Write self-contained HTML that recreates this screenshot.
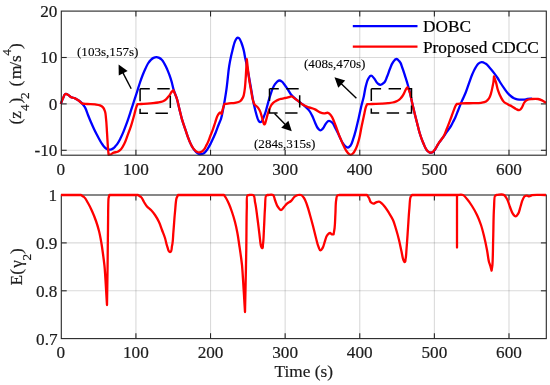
<!DOCTYPE html>
<html><head><meta charset="utf-8"><title>Figure</title>
<style>
html,body{margin:0;padding:0;background:#fff;}
svg{display:block;}
text{font-family:"Liberation Serif",serif;fill:#1c1c1c;stroke:#1c1c1c;stroke-width:0.2px;}
.tick{font-size:17.2px;}
.lab{font-size:17.3px;}
.sub{font-size:13.3px;}
.ann{font-size:13.1px;fill:#000;stroke:#000;stroke-width:0.1px;}
.leg{fill:#000;stroke:#000;}
.grid line{stroke:#262626;stroke-opacity:0.17;stroke-width:1.1;}
.ax{stroke:#262626;stroke-width:1.1;fill:none;}
.tk line{stroke:#262626;stroke-width:1.1;}
.cv{fill:none;stroke-width:2.3;stroke-linejoin:round;stroke-linecap:butt;}
.box{fill:none;stroke:#000;stroke-width:1.5;stroke-dasharray:12.4 7.5;}
.arr{stroke:#000;stroke-width:1.4;}
</style></head>
<body>
<svg width="550" height="385" viewBox="0 0 550 385">
<rect x="0" y="0" width="550" height="385" fill="#fff"/>
<!-- top axes -->
<g class="grid"><line x1="135.92" y1="11.10" x2="135.92" y2="155.20"/><line x1="210.53" y1="11.10" x2="210.53" y2="155.20"/><line x1="285.15" y1="11.10" x2="285.15" y2="155.20"/><line x1="359.76" y1="11.10" x2="359.76" y2="155.20"/><line x1="434.38" y1="11.10" x2="434.38" y2="155.20"/><line x1="508.99" y1="11.10" x2="508.99" y2="155.20"/><line x1="61.30" y1="57.50" x2="546.30" y2="57.50"/><line x1="61.30" y1="103.90" x2="546.30" y2="103.90"/><line x1="61.30" y1="150.30" x2="546.30" y2="150.30"/></g>
<g class="tk"><line x1="135.92" y1="155.20" x2="135.92" y2="149.80"/><line x1="135.92" y1="11.10" x2="135.92" y2="16.50"/><line x1="210.53" y1="155.20" x2="210.53" y2="149.80"/><line x1="210.53" y1="11.10" x2="210.53" y2="16.50"/><line x1="285.15" y1="155.20" x2="285.15" y2="149.80"/><line x1="285.15" y1="11.10" x2="285.15" y2="16.50"/><line x1="359.76" y1="155.20" x2="359.76" y2="149.80"/><line x1="359.76" y1="11.10" x2="359.76" y2="16.50"/><line x1="434.38" y1="155.20" x2="434.38" y2="149.80"/><line x1="434.38" y1="11.10" x2="434.38" y2="16.50"/><line x1="508.99" y1="155.20" x2="508.99" y2="149.80"/><line x1="508.99" y1="11.10" x2="508.99" y2="16.50"/><line x1="61.30" y1="57.50" x2="66.70" y2="57.50"/><line x1="546.30" y1="57.50" x2="540.90" y2="57.50"/><line x1="61.30" y1="103.90" x2="66.70" y2="103.90"/><line x1="546.30" y1="103.90" x2="540.90" y2="103.90"/><line x1="61.30" y1="150.30" x2="66.70" y2="150.30"/><line x1="546.30" y1="150.30" x2="540.90" y2="150.30"/></g>
<path class="cv" stroke="#0000ff" d="M60.80 104.00 C61.53 102.10 62.05 100.10 63.00 98.30 C63.82 96.74 64.14 93.90 65.90 93.90 C66.78 93.90 67.55 94.55 68.30 95.00 C69.17 95.53 69.82 96.38 70.70 96.90 C72.01 97.67 73.62 97.76 75.00 98.40 C76.41 99.06 77.75 99.88 79.00 100.80 C80.07 101.58 81.09 102.44 82.00 103.40 C83.15 104.61 84.14 105.97 85.00 107.40 C86.41 109.73 86.98 112.47 88.00 115.00 C88.98 117.44 89.96 119.88 91.00 122.30 C91.97 124.55 92.95 126.79 94.00 129.00 C94.80 130.68 95.65 132.34 96.50 134.00 C97.32 135.61 98.13 137.22 99.00 138.80 C99.77 140.21 100.53 141.64 101.40 143.00 C102.06 144.03 102.71 145.07 103.50 146.00 C104.17 146.79 104.86 147.59 105.70 148.20 C106.29 148.63 106.91 149.04 107.60 149.30 C108.21 149.53 108.85 149.70 109.50 149.70 C110.15 149.70 110.79 149.52 111.40 149.30 C112.12 149.04 112.78 148.65 113.40 148.20 C114.20 147.62 114.84 146.84 115.50 146.10 C116.29 145.22 117.02 144.28 117.70 143.30 C118.79 141.73 119.63 140.00 120.50 138.30 C121.48 136.37 122.35 134.39 123.20 132.40 C124.21 130.03 125.11 127.61 126.00 125.20 C126.91 122.75 127.76 120.28 128.60 117.80 C129.43 115.34 130.20 112.87 131.00 110.40 C132.00 107.33 133.00 104.27 134.00 101.20 C135.00 98.13 136.01 95.07 137.00 92.00 C138.01 88.84 138.93 85.64 140.00 82.50 C140.86 79.98 141.72 77.47 142.70 75.00 C143.57 72.81 144.50 70.64 145.50 68.50 C146.29 66.81 146.99 65.07 148.00 63.50 C148.85 62.18 149.75 60.86 150.90 59.80 C151.69 59.07 152.53 58.36 153.50 57.90 C154.41 57.47 155.40 57.09 156.40 57.10 C157.37 57.11 158.32 57.48 159.20 57.90 C160.17 58.36 161.03 59.05 161.80 59.80 C162.96 60.92 163.68 62.41 164.50 63.80 C165.59 65.65 166.44 67.63 167.30 69.60 C168.10 71.44 168.82 73.31 169.50 75.20 C170.26 77.31 170.97 79.45 171.60 81.60 C172.37 84.24 172.81 86.97 173.60 89.60 C174.48 92.52 175.80 95.29 176.70 98.20 C177.81 101.78 178.49 105.47 179.40 109.10 C180.26 112.54 181.02 116.00 182.00 119.40 C183.17 123.45 184.67 127.46 186.00 131.40 C186.66 133.37 187.28 135.35 188.00 137.30 C188.63 139.01 189.26 140.73 190.00 142.40 C190.62 143.79 191.24 145.18 192.00 146.50 C192.61 147.57 193.25 148.62 194.00 149.60 C194.67 150.48 195.37 151.37 196.20 152.10 C196.85 152.67 197.52 153.24 198.30 153.60 C199.02 153.93 199.81 154.16 200.60 154.20 C201.41 154.24 202.25 154.11 203.00 153.80 C203.90 153.43 204.61 152.68 205.30 152.00 C206.16 151.15 206.81 150.10 207.50 149.10 C208.76 147.27 209.78 145.28 210.80 143.30 C211.78 141.40 212.62 139.44 213.50 137.50 C214.32 135.68 215.15 133.85 215.90 132.00 C216.84 129.69 217.59 127.32 218.50 125.00 C219.30 122.95 220.31 120.99 221.00 118.90 C222.10 115.60 222.52 112.11 223.20 108.70 C223.77 105.81 224.30 102.91 224.80 100.00 C225.34 96.81 225.85 93.61 226.30 90.40 C226.67 87.74 226.97 85.07 227.30 82.40 C227.95 77.06 228.32 71.43 229.20 66.00 C229.69 62.99 230.25 59.98 230.90 57.00 C231.30 55.16 231.76 53.33 232.20 51.50 C232.56 49.97 232.90 48.43 233.30 46.90 C233.64 45.59 233.96 44.28 234.40 43.00 C234.75 41.98 235.08 40.95 235.60 40.00 C235.92 39.41 236.20 38.75 236.70 38.30 C237.02 38.01 237.37 37.63 237.80 37.60 C238.25 37.57 238.65 37.93 239.00 38.20 C239.57 38.64 239.84 39.37 240.20 40.00 C240.74 40.95 241.11 41.98 241.50 43.00 C242.00 44.28 242.41 45.59 242.80 46.90 C243.25 48.42 243.65 49.95 244.00 51.50 C244.41 53.32 244.64 55.17 245.00 57.00 C245.40 59.01 245.88 61.00 246.30 63.00 C246.75 65.16 247.18 67.33 247.60 69.50 C248.12 72.16 248.61 74.83 249.10 77.50 C249.62 80.33 250.11 83.17 250.60 86.00 C251.01 88.33 251.41 90.67 251.80 93.00 C252.14 95.00 252.43 97.01 252.80 99.00 C253.22 101.28 253.69 103.54 254.20 105.80 C254.86 108.72 255.52 111.64 256.40 114.50 C257.03 116.52 257.51 119.24 258.50 120.50 C258.99 121.13 259.40 122.16 260.20 122.20 C260.92 122.24 261.50 121.51 262.00 121.00 C262.89 120.09 263.02 118.67 263.50 117.50 C264.06 116.14 264.61 114.78 265.10 113.40 C265.95 110.98 266.50 108.47 267.20 106.00 C267.94 103.40 268.61 100.78 269.40 98.20 C269.91 96.53 270.44 94.86 271.00 93.20 C271.54 91.59 272.00 89.95 272.70 88.40 C273.36 86.94 274.07 85.50 275.00 84.20 C275.60 83.35 276.18 82.44 277.00 81.80 C277.74 81.22 278.56 80.51 279.50 80.50 C280.42 80.49 281.26 81.15 282.00 81.70 C282.81 82.31 283.36 83.21 284.00 84.00 C285.08 85.34 286.03 86.78 287.00 88.20 C288.39 90.23 289.43 92.51 291.00 94.40 C292.21 95.85 293.60 97.14 295.00 98.40 C296.59 99.83 298.33 101.07 300.00 102.40 C301.67 103.73 303.41 104.97 305.00 106.40 C306.40 107.66 307.84 108.92 309.00 110.40 C310.20 111.93 311.10 113.68 312.00 115.40 C313.18 117.65 313.93 120.10 315.00 122.40 C315.94 124.43 316.59 126.87 318.00 128.40 C318.71 129.16 319.36 130.36 320.40 130.40 C321.49 130.44 322.23 129.18 323.00 128.40 C324.37 127.02 324.71 124.85 326.00 123.40 C326.88 122.41 327.68 120.88 329.00 120.80 C330.13 120.73 331.12 121.68 332.00 122.40 C333.50 123.63 334.05 125.70 335.00 127.40 C336.46 130.00 337.67 132.73 339.00 135.40 C340.33 138.07 341.23 141.00 343.00 143.40 C343.90 144.62 344.76 146.07 346.00 146.80 C346.62 147.16 347.28 147.62 348.00 147.60 C349.13 147.57 349.85 146.25 350.60 145.40 C352.09 143.69 352.57 140.77 353.40 138.40 C354.43 135.45 355.20 132.42 356.00 129.40 C356.96 125.76 357.77 122.07 358.60 118.40 C359.43 114.74 360.14 111.05 361.00 107.40 C361.87 103.72 362.96 100.09 363.80 96.40 C364.63 92.75 364.98 89.00 366.00 85.40 C366.63 83.20 366.97 80.83 368.20 78.90 C368.96 77.71 369.58 75.75 371.00 75.70 C372.30 75.65 373.09 77.27 374.00 78.20 C375.47 79.71 375.89 82.17 377.60 83.40 C378.47 84.03 379.43 84.76 380.50 84.80 C381.93 84.85 383.17 83.60 384.20 82.60 C385.74 81.11 386.14 78.77 387.00 76.80 C388.14 74.19 388.90 71.43 390.00 68.80 C390.93 66.57 391.53 64.11 393.00 62.20 C393.93 60.99 394.77 59.01 396.30 59.00 C397.63 58.99 398.60 60.42 399.50 61.40 C401.13 63.17 401.53 65.76 402.40 68.00 C403.52 70.88 404.36 73.86 405.30 76.80 C406.30 79.92 407.31 83.04 408.20 86.20 C408.91 88.72 409.58 91.25 410.20 93.80 C410.98 97.05 411.56 100.34 412.30 103.60 C413.00 106.67 413.75 109.74 414.50 112.80 C415.38 116.37 416.29 119.93 417.20 123.50 C417.96 126.50 418.61 129.54 419.50 132.50 C420.19 134.79 420.96 137.06 421.80 139.30 C422.40 140.88 423.03 142.45 423.70 144.00 C424.28 145.34 424.78 146.73 425.50 148.00 C426.09 149.05 426.64 150.16 427.50 151.00 C428.17 151.65 428.90 152.36 429.80 152.60 C430.57 152.80 431.44 152.76 432.20 152.50 C433.43 152.08 434.11 150.73 434.90 149.70 C435.73 148.62 436.30 147.37 437.00 146.20 C437.76 144.93 438.49 143.64 439.30 142.40 C440.62 140.39 442.21 138.56 443.60 136.60 C444.76 134.95 445.84 133.25 447.00 131.60 C448.27 129.78 449.78 128.12 450.90 126.20 C451.69 124.85 452.29 123.40 453.00 122.00 C453.76 120.50 454.59 119.03 455.30 117.50 C456.40 115.13 457.23 112.63 458.20 110.20 C459.17 107.77 460.07 105.31 461.10 102.90 C461.80 101.25 462.58 99.64 463.30 98.00 C464.18 96.01 465.09 94.02 465.90 92.00 C467.13 88.95 468.08 85.79 469.20 82.70 C470.25 79.79 471.16 76.83 472.40 74.00 C473.39 71.75 474.38 69.48 475.70 67.40 C476.52 66.11 477.20 64.65 478.40 63.70 C479.36 62.94 480.48 62.18 481.70 62.10 C483.06 62.02 484.33 62.90 485.50 63.60 C487.28 64.66 488.51 66.46 489.90 68.00 C491.46 69.72 492.90 71.55 494.30 73.40 C495.44 74.90 496.56 76.43 497.60 78.00 C498.78 79.78 499.75 81.70 500.90 83.50 C501.96 85.16 503.06 86.79 504.20 88.40 C505.23 89.86 506.23 91.35 507.40 92.70 C508.42 93.87 509.49 95.02 510.70 96.00 C511.73 96.83 512.81 97.63 514.00 98.20 C515.05 98.70 516.17 99.05 517.30 99.30 C518.70 99.61 520.16 99.68 521.60 99.70 C523.07 99.72 524.91 99.66 526.00 99.40 C526.54 99.27 527.06 99.03 527.60 98.90 C528.69 98.64 530.53 98.70 532.00 98.60"/>
<path class="cv" stroke="#ff0000" d="M60.80 104.00 C61.53 102.10 62.05 100.10 63.00 98.30 C63.82 96.74 64.14 93.90 65.90 93.90 C66.78 93.90 67.55 94.55 68.30 95.00 C69.17 95.53 69.82 96.38 70.70 96.90 C72.01 97.67 73.62 97.76 75.00 98.40 C76.41 99.06 77.75 99.88 79.00 100.80 C80.07 101.58 80.81 102.82 82.00 103.40 C83.51 104.13 85.33 103.84 87.00 104.00 C89.66 104.25 92.36 104.03 95.00 104.40 C96.68 104.64 98.45 104.70 100.00 105.40 C101.09 105.90 102.18 106.52 103.00 107.40 C104.02 108.49 104.50 109.99 105.00 111.40 C105.78 113.62 105.72 116.06 106.00 118.40 C106.55 123.05 106.69 127.73 107.00 132.40 C107.36 137.73 107.64 144.13 108.00 148.40 C108.18 150.54 108.40 152.67 108.60 154.80  C109.47 154.60 110.39 154.56 111.20 154.20 C112.01 153.84 112.60 153.09 113.40 152.70 C114.72 152.06 116.37 152.42 117.70 151.80 C118.95 151.22 120.04 150.29 121.00 149.30 C122.49 147.77 123.33 145.71 124.30 143.80 C125.63 141.18 126.46 138.34 127.50 135.60 C128.67 132.51 129.86 129.43 130.90 126.30 C132.14 122.58 133.15 118.78 134.20 115.00 C134.96 112.27 135.73 108.56 136.40 106.80 C136.74 105.92 137.13 105.07 137.50 104.20  C138.67 104.13 139.83 104.06 141.00 104.00 C143.10 103.89 145.20 103.84 147.30 103.70 C149.20 103.57 151.10 103.41 153.00 103.20 C154.74 103.01 156.48 102.82 158.20 102.50 C159.14 102.33 160.09 102.17 161.00 101.90 C161.89 101.63 162.77 101.33 163.60 100.90 C164.45 100.46 165.27 99.93 166.00 99.30 C166.75 98.66 167.36 97.86 168.00 97.10 C168.63 96.36 169.25 95.60 169.80 94.80 C170.35 94.00 170.70 93.07 171.30 92.30 C171.91 91.52 172.70 90.90 173.40 90.20  C174.50 92.87 175.77 95.47 176.70 98.20 C177.90 101.75 178.49 105.47 179.40 109.10 C180.26 112.54 181.02 116.00 182.00 119.40 C183.17 123.45 184.67 127.46 186.00 131.40 C186.66 133.37 187.28 135.35 188.00 137.30 C188.63 139.01 189.25 140.74 190.00 142.40 C190.61 143.76 191.23 145.12 192.00 146.40 C192.61 147.41 193.22 148.42 194.00 149.30 C194.69 150.08 195.41 150.87 196.30 151.40 C197.18 151.92 198.18 152.40 199.20 152.40 C200.18 152.40 201.16 152.01 202.00 151.50 C202.95 150.93 203.64 149.99 204.30 149.10 C205.00 148.15 205.45 147.04 206.00 146.00 C206.58 144.91 207.17 143.82 207.70 142.70 C208.72 140.53 209.43 138.23 210.30 136.00 C211.20 133.70 212.16 131.42 213.00 129.10 C213.79 126.92 214.46 124.70 215.20 122.50 C215.93 120.33 216.67 117.37 217.40 116.00 C217.76 115.31 218.14 114.63 218.60 114.00 C219.02 113.43 219.53 112.93 220.00 112.40  L221.60 114.00  C222.07 112.13 222.47 110.25 223.00 108.40 C223.43 106.92 223.93 105.47 224.40 104.00  C225.93 103.80 227.46 103.58 229.00 103.40 C231.00 103.17 233.03 103.19 235.00 102.80 C236.70 102.47 238.58 102.39 240.00 101.40 C241.37 100.45 242.24 98.88 243.00 97.40 C244.09 95.27 244.21 92.76 244.60 90.40 C245.04 87.76 245.16 85.07 245.40 82.40 C245.88 77.06 246.33 66.93 246.80 59.20  C247.73 66.93 248.58 76.31 249.60 82.40 C250.11 85.44 250.73 88.47 251.30 91.50 C251.86 94.50 252.05 97.70 253.00 100.50 C253.47 101.90 253.80 103.43 254.70 104.60 C255.42 105.54 256.61 106.02 257.40 106.90 C258.29 107.88 258.98 109.03 259.60 110.20 C260.68 112.22 261.13 114.51 261.80 116.70 C262.38 118.62 262.91 121.28 263.40 122.50 C263.64 123.11 263.69 123.89 264.20 124.30 C265.22 125.13 265.51 121.81 266.00 120.50 C266.59 118.92 266.83 117.22 267.30 115.60 C267.93 113.41 268.51 111.20 269.40 109.10 C270.04 107.59 270.65 106.04 271.60 104.70 C272.22 103.83 272.88 102.97 273.70 102.30 C274.39 101.73 275.22 101.34 276.00 100.90 C276.85 100.43 277.70 99.95 278.60 99.60 C279.50 99.25 280.46 99.04 281.40 98.80 C282.59 98.49 283.80 98.25 285.00 98.00 C286.00 97.79 287.01 97.66 288.00 97.40 C288.67 97.23 289.34 97.03 290.00 96.80 C290.44 96.65 290.84 96.30 291.30 96.30 C291.85 96.30 292.32 96.72 292.80 97.00 C293.42 97.36 293.93 97.87 294.50 98.30 C295.64 99.16 297.44 100.49 298.90 101.60 C300.28 102.65 301.52 103.89 303.00 104.80 C304.86 105.94 306.96 106.62 309.00 107.40 C310.97 108.15 313.09 108.51 315.00 109.40 C316.76 110.22 318.19 111.70 320.00 112.40 C321.28 112.89 322.63 113.34 324.00 113.40 C325.35 113.46 326.71 112.42 328.00 112.80 C329.27 113.17 330.14 114.40 331.00 115.40 C332.46 117.09 333.09 119.36 334.00 121.40 C335.15 124.00 336.00 126.73 337.00 129.40 C338.00 132.07 338.94 134.76 340.00 137.40 C340.95 139.75 341.93 142.10 343.00 144.40 C343.94 146.43 344.74 148.55 346.00 150.40 C346.88 151.69 348.00 153.35 349.00 154.00 C349.50 154.33 350.01 154.75 350.60 154.80 C351.52 154.88 352.28 153.99 353.00 153.40 C354.43 152.22 355.14 150.14 356.00 148.40 C357.40 145.56 358.16 142.45 359.00 139.40 C360.17 135.17 360.70 130.79 361.60 126.50 C362.12 124.00 362.67 121.50 363.20 119.00 C363.60 117.13 363.98 115.26 364.40 113.40 C364.91 111.13 365.35 108.24 366.00 106.60 C366.32 105.78 366.73 105.00 367.10 104.20  C368.73 104.13 370.37 104.06 372.00 104.00 C375.27 103.88 378.54 103.90 381.80 103.70 C383.87 103.57 385.94 103.45 388.00 103.20 C389.57 103.01 391.16 102.87 392.70 102.50 C393.72 102.26 394.73 101.98 395.70 101.60 C396.56 101.26 397.42 100.89 398.20 100.40 C399.04 99.87 399.80 99.21 400.50 98.50 C401.25 97.74 401.90 96.88 402.50 96.00 C403.06 95.17 403.54 94.29 404.00 93.40 C404.48 92.46 404.83 91.45 405.30 90.50 C405.65 89.79 405.93 89.03 406.40 88.40 C406.70 88.00 407.07 87.67 407.40 87.30  C407.87 88.13 408.39 88.94 408.80 89.80 C409.40 91.08 409.78 92.45 410.20 93.80 C411.03 96.50 411.56 100.34 412.30 103.60 C413.00 106.67 413.75 109.74 414.50 112.80 C415.38 116.37 416.29 119.93 417.20 123.50 C417.96 126.50 418.61 129.54 419.50 132.50 C420.19 134.79 420.96 137.06 421.80 139.30 C422.40 140.88 423.03 142.45 423.70 144.00 C424.28 145.34 424.78 146.73 425.50 148.00 C426.09 149.05 426.62 150.18 427.50 151.00 C428.17 151.63 428.90 152.31 429.80 152.50 C430.52 152.65 431.30 152.54 432.00 152.30 C433.27 151.87 434.06 150.55 434.90 149.50 C435.75 148.44 436.30 147.17 437.00 146.00 C437.76 144.73 438.49 143.44 439.30 142.20 C440.62 140.19 442.40 138.49 443.60 136.40 C444.84 134.24 445.56 131.81 446.50 129.50 C447.54 126.95 448.51 124.37 449.50 121.80 C450.24 119.87 450.98 117.94 451.70 116.00 C452.41 114.07 453.06 112.12 453.80 110.20 C454.34 108.79 454.79 107.33 455.50 106.00 C455.86 105.31 456.30 104.67 456.70 104.00  C458.13 103.80 459.56 103.55 461.00 103.40 C463.88 103.09 469.00 103.35 473.00 103.20 C475.67 103.10 478.38 103.29 481.00 102.80 C482.70 102.48 484.53 102.31 486.00 101.40 C487.20 100.65 488.19 99.56 489.00 98.40 C490.02 96.93 490.45 95.11 491.00 93.40 C491.74 91.12 492.11 88.74 492.60 86.40 C492.88 85.07 493.19 83.74 493.40 82.40 C493.72 80.42 493.80 78.40 494.00 76.40  C494.67 78.40 495.40 80.38 496.00 82.40 C496.78 85.04 497.11 87.80 498.00 90.40 C498.82 92.80 499.77 95.18 501.00 97.40 C501.89 99.00 502.66 100.75 504.00 102.00 C505.14 103.06 506.64 103.65 508.00 104.40 C509.31 105.12 510.70 105.66 512.00 106.40 C513.38 107.19 514.54 108.37 516.00 109.00 C517.14 109.49 518.41 110.36 519.60 110.00 C520.73 109.66 521.31 108.35 522.00 107.40 C523.09 105.91 523.24 103.84 524.40 102.40 C525.14 101.48 525.98 100.59 527.00 100.00 C528.47 99.15 530.31 99.18 532.00 99.00 C533.99 98.79 536.04 98.61 538.00 99.00 C539.39 99.28 540.72 99.81 542.00 100.40 C543.41 101.05 544.67 102.00 546.00 102.80"/>
<rect class="ax" x="61.30" y="11.10" width="485.00" height="144.10"/>
<!-- dashed boxes -->
<path class="box" d="M140.1 88.8 V113.2 H170.3 V88.8 H140.1"/>
<path class="box" d="M269.5 88.7 V112.9 H299.7 V88.7 H269.5"/>
<path class="box" d="M371.3 88.7 V113.1 H411.5 V88.7 H371.3"/>
<!-- arrows -->
<g class="arr">
<line x1="131.20" y1="88.80" x2="122.73" y2="72.40"/><polygon points="118.60,64.40 127.63,70.99 118.75,75.58" stroke="none" fill="#000"/>
<line x1="274.50" y1="113.60" x2="285.51" y2="124.86"/><polygon points="291.80,131.30 281.23,127.64 288.39,120.65" stroke="none" fill="#000"/>
<line x1="356.40" y1="98.20" x2="341.01" y2="83.51"/><polygon points="334.50,77.30 345.19,80.59 338.28,87.82" stroke="none" fill="#000"/>
</g>
<text class="ann" x="77" y="56">(103s,157s)</text>
<text class="ann" x="254" y="148">(284s,315s)</text>
<text class="ann" x="304" y="68.4">(408s,470s)</text>
<!-- legend -->
<line x1="352.8" y1="26.2" x2="417.5" y2="26.2" stroke="#0000ff" stroke-width="2.3"/>
<line x1="352.8" y1="46.6" x2="417.5" y2="46.6" stroke="#ff0000" stroke-width="2.3"/>
<text class="lab leg" x="423" y="32">DOBC</text>
<text class="lab leg" x="423" y="52.6">Proposed CDCC</text>
<!-- top tick labels -->
<g class="tick" text-anchor="end">
<text x="57.4" y="16.8">20</text><text x="57.4" y="63.2">10</text><text x="57.4" y="109.6">0</text><text x="57.4" y="156">-10</text>
</g>
<g class="tick" text-anchor="middle">
<text x="60.80" y="174.60">0</text><text x="135.92" y="174.60">100</text><text x="210.53" y="174.60">200</text><text x="285.15" y="174.60">300</text><text x="359.76" y="174.60">400</text><text x="434.38" y="174.60">500</text><text x="508.99" y="174.60">600</text>
</g>
<!-- top ylabel -->
<g transform="translate(20.7,125) rotate(-90)">
<text class="lab" x="0.6" y="0">(z</text>
<text class="sub" x="14.1" y="8.5">4</text>
<text class="lab" x="21.5" y="0">)</text>
<text class="sub" x="26" y="8.5">2</text>
<text class="lab" x="38.5" y="0">(</text>
<text class="lab" x="46" y="0">m</text>
<text class="lab" x="58.2" y="0">/s</text>
<text class="sub" x="69.3" y="-9.6">4</text>
<text class="lab" x="76" y="0">)</text>
</g>
<!-- bottom axes -->
<g class="grid"><line x1="135.92" y1="195.00" x2="135.92" y2="338.60"/><line x1="210.53" y1="195.00" x2="210.53" y2="338.60"/><line x1="285.15" y1="195.00" x2="285.15" y2="338.60"/><line x1="359.76" y1="195.00" x2="359.76" y2="338.60"/><line x1="434.38" y1="195.00" x2="434.38" y2="338.60"/><line x1="508.99" y1="195.00" x2="508.99" y2="338.60"/><line x1="61.30" y1="242.90" x2="546.30" y2="242.90"/><line x1="61.30" y1="290.80" x2="546.30" y2="290.80"/></g>
<g class="tk"><line x1="135.92" y1="338.60" x2="135.92" y2="333.20"/><line x1="135.92" y1="195.00" x2="135.92" y2="200.40"/><line x1="210.53" y1="338.60" x2="210.53" y2="333.20"/><line x1="210.53" y1="195.00" x2="210.53" y2="200.40"/><line x1="285.15" y1="338.60" x2="285.15" y2="333.20"/><line x1="285.15" y1="195.00" x2="285.15" y2="200.40"/><line x1="359.76" y1="338.60" x2="359.76" y2="333.20"/><line x1="359.76" y1="195.00" x2="359.76" y2="200.40"/><line x1="434.38" y1="338.60" x2="434.38" y2="333.20"/><line x1="434.38" y1="195.00" x2="434.38" y2="200.40"/><line x1="508.99" y1="338.60" x2="508.99" y2="333.20"/><line x1="508.99" y1="195.00" x2="508.99" y2="200.40"/><line x1="61.30" y1="242.90" x2="66.70" y2="242.90"/><line x1="546.30" y1="242.90" x2="540.90" y2="242.90"/><line x1="61.30" y1="290.80" x2="66.70" y2="290.80"/><line x1="546.30" y1="290.80" x2="540.90" y2="290.80"/></g>
<rect class="ax" x="61.30" y="195.00" width="485.00" height="143.60"/>
<path class="cv" stroke="#ff0000" d="M61.00 195.00 L81.00 195.00  C82.00 195.67 83.10 196.21 84.00 197.00 C85.81 198.58 86.78 200.93 88.00 203.00 C89.51 205.57 90.77 208.28 92.00 211.00 C93.48 214.27 94.82 217.61 96.00 221.00 C97.15 224.29 98.15 227.63 99.00 231.00 C100.00 234.95 100.71 238.98 101.40 243.00 C102.03 246.65 102.50 250.33 103.00 254.00 C103.50 257.66 103.98 261.33 104.40 265.00 C105.24 272.35 106.13 291.67 107.00 305.00  C107.20 291.67 107.43 278.33 107.60 265.00 C107.76 252.67 107.80 240.33 108.00 228.00 C108.16 218.00 108.11 200.01 108.60 198.00 C108.84 196.99 109.13 196.00 109.40 195.00  L138.00 195.00  C139.00 195.67 140.13 196.18 141.00 197.00 C142.41 198.33 142.95 200.36 144.00 202.00 C144.96 203.49 145.83 205.06 147.00 206.40 C148.18 207.75 149.76 208.70 151.00 210.00 C152.48 211.54 153.78 213.25 155.00 215.00 C156.53 217.21 157.85 219.57 159.00 222.00 C160.22 224.58 161.00 227.33 162.00 230.00 C163.00 232.67 164.13 235.29 165.00 238.00 C165.95 240.96 166.20 244.14 167.40 247.00 C168.13 248.73 168.12 251.89 170.00 252.00 C172.10 252.12 171.47 248.04 172.00 246.00 C173.06 241.92 172.97 236.67 173.40 232.00 C174.01 225.34 174.33 218.65 175.00 212.00 C175.47 207.33 175.79 200.05 176.60 198.00 C177.00 196.97 177.53 196.00 178.00 195.00  L224.00 195.00  C224.67 196.00 225.38 196.97 226.00 198.00 C227.16 199.91 228.09 201.96 229.00 204.00 C230.15 206.60 231.08 209.30 232.00 212.00 C233.12 215.29 234.12 218.63 235.00 222.00 C235.95 225.63 236.71 229.31 237.40 233.00 C238.21 237.31 238.75 241.66 239.40 246.00 C239.95 249.66 240.51 253.33 241.00 257.00 C241.36 259.66 241.69 262.33 242.00 265.00 C242.62 270.34 244.00 296.33 245.00 312.00  C245.33 296.33 245.79 276.33 246.00 265.00 C246.11 259.33 246.21 253.67 246.30 248.00 C246.48 236.67 246.47 216.27 246.80 208.00 C246.96 203.87 246.39 196.12 247.40 195.60 C247.91 195.34 248.47 195.20 249.00 195.00  C250.33 195.00 251.79 194.44 253.00 195.00 C255.21 196.01 254.43 199.64 255.00 202.00 C256.15 206.72 256.67 212.66 257.40 218.00 C258.13 223.32 258.71 228.67 259.40 234.00 C259.92 238.00 260.40 244.63 261.00 246.00 C261.30 246.68 261.37 247.60 262.00 248.00 C263.16 248.74 262.72 245.34 263.00 244.00 C263.57 241.31 263.70 233.34 264.00 228.00 C264.38 221.34 264.53 214.66 265.00 208.00 C265.28 204.00 265.14 196.76 266.00 196.00 C266.43 195.62 266.93 195.33 267.40 195.00  C269.27 195.00 271.47 193.93 273.00 195.00 C274.47 196.03 274.32 198.34 275.00 200.00 C275.97 202.35 276.46 204.98 278.00 207.00 C278.86 208.13 279.59 210.00 281.00 210.00 C282.41 210.00 283.03 208.03 284.00 207.00 C285.04 205.90 285.86 204.59 287.00 203.60 C288.20 202.56 289.78 202.02 291.00 201.00 C292.56 199.69 293.30 197.52 295.00 196.40 C295.92 195.79 296.92 195.23 298.00 195.00 C298.98 194.79 300.05 194.68 301.00 195.00 C302.34 195.45 303.14 196.87 304.00 198.00 C305.54 200.02 306.11 202.62 307.00 205.00 C308.22 208.26 309.04 211.65 310.00 215.00 C311.05 218.65 312.04 222.32 313.00 226.00 C314.04 229.99 314.92 234.02 316.00 238.00 C316.82 241.01 317.44 244.64 318.60 247.00 C319.18 248.18 319.29 250.51 320.60 250.40 C321.64 250.31 322.02 248.87 322.60 248.00 C323.75 246.27 324.14 243.31 325.00 241.00 C325.75 238.98 325.95 236.60 327.40 235.00 C328.13 234.19 328.91 232.91 330.00 233.00 C330.81 233.07 331.21 234.21 332.00 234.40 C332.52 234.53 333.07 234.40 333.60 234.40  C333.93 232.27 334.33 230.14 334.60 228.00 C335.13 223.71 335.13 218.67 335.40 214.00 C335.67 209.33 335.55 203.10 336.20 200.00 C336.52 198.45 336.44 195.93 337.40 195.40 C337.88 195.14 338.47 195.13 339.00 195.00  L367.00 195.00  C367.67 196.00 368.40 196.96 369.00 198.00 C369.80 199.40 369.77 201.36 371.00 202.40 C371.68 202.98 372.51 203.57 373.40 203.60 C374.35 203.63 375.10 202.73 376.00 202.40 C376.97 202.05 377.97 201.47 379.00 201.60 C380.19 201.76 381.08 202.82 382.00 203.60 C383.15 204.58 384.06 205.82 385.00 207.00 C386.49 208.88 387.73 210.96 389.00 213.00 C390.42 215.28 391.88 217.56 393.00 220.00 C394.31 222.88 395.08 225.98 396.00 229.00 C397.11 232.63 398.10 236.31 399.00 240.00 C399.89 243.65 400.59 247.34 401.40 251.00 C402.06 254.00 402.69 258.62 403.40 260.00 C403.76 260.69 403.84 261.84 404.60 262.00 C405.63 262.22 405.32 260.02 405.60 259.00 C406.16 256.97 406.29 251.67 406.60 248.00 C407.16 241.34 407.53 234.67 408.00 228.00 C408.47 221.33 408.77 214.65 409.40 208.00 C409.75 204.33 409.79 198.41 410.60 197.00 C411.01 196.29 411.53 195.67 412.00 195.00  L457.00 195.00  L457.00 247.60  L457.00 195.00  C459.00 195.00 461.16 194.21 463.00 195.00 C464.73 195.74 465.76 197.58 467.00 199.00 C468.89 201.16 470.46 203.58 472.00 206.00 C473.85 208.89 475.52 211.90 477.00 215.00 C478.55 218.24 479.85 221.60 481.00 225.00 C482.21 228.60 483.09 232.31 484.00 236.00 C485.14 240.63 486.12 245.31 487.00 250.00 C487.75 253.99 488.40 259.98 489.00 262.00 C489.30 263.01 489.68 264.00 490.00 265.00 C490.59 266.85 491.07 268.73 491.60 270.60  C491.87 268.73 492.17 266.87 492.40 265.00 C492.86 261.26 492.95 247.00 493.20 238.00 C493.48 228.00 493.46 216.01 494.00 208.00 C494.27 204.00 494.14 196.76 495.00 196.00 C495.43 195.62 495.93 195.33 496.40 195.00  C498.93 195.00 501.86 193.64 504.00 195.00 C505.41 195.89 506.15 197.57 507.00 199.00 C508.46 201.44 508.94 204.36 510.00 207.00 C510.95 209.35 511.49 212.19 513.00 214.00 C513.75 214.91 514.42 216.45 515.60 216.40 C516.73 216.35 517.32 214.91 518.00 214.00 C519.36 212.19 519.62 209.34 520.40 207.00 C521.29 204.34 521.83 201.10 523.00 199.00 C523.58 197.95 523.93 196.55 525.00 196.00 C525.60 195.69 526.32 195.54 527.00 195.60 C527.72 195.66 528.28 196.34 529.00 196.40 C530.07 196.49 530.98 195.53 532.00 195.20 C534.05 194.54 541.33 195.07 546.00 195.00"/>
<g class="tick" text-anchor="end">
<text x="57" y="200.8">1</text><text x="57.4" y="248.7">0.9</text><text x="57.4" y="296.6">0.8</text><text x="57.6" y="344.5">0.7</text>
</g>
<g class="tick" text-anchor="middle">
<text x="60.80" y="358.00">0</text><text x="135.92" y="358.00">100</text><text x="210.53" y="358.00">200</text><text x="285.15" y="358.00">300</text><text x="359.76" y="358.00">400</text><text x="434.38" y="358.00">500</text><text x="508.99" y="358.00">600</text>
</g>
<text class="lab" x="303.7" y="377.4" text-anchor="middle">Time (s)</text>
<g transform="translate(21.5,285.4) rotate(-90)">
<text class="lab" x="0" y="0">E(</text>
<text class="lab" x="17.6" y="0">γ</text>
<text class="sub" x="25" y="9">2</text>
<text class="lab" x="31.3" y="0">)</text>
</g>
</svg>
</body></html>
